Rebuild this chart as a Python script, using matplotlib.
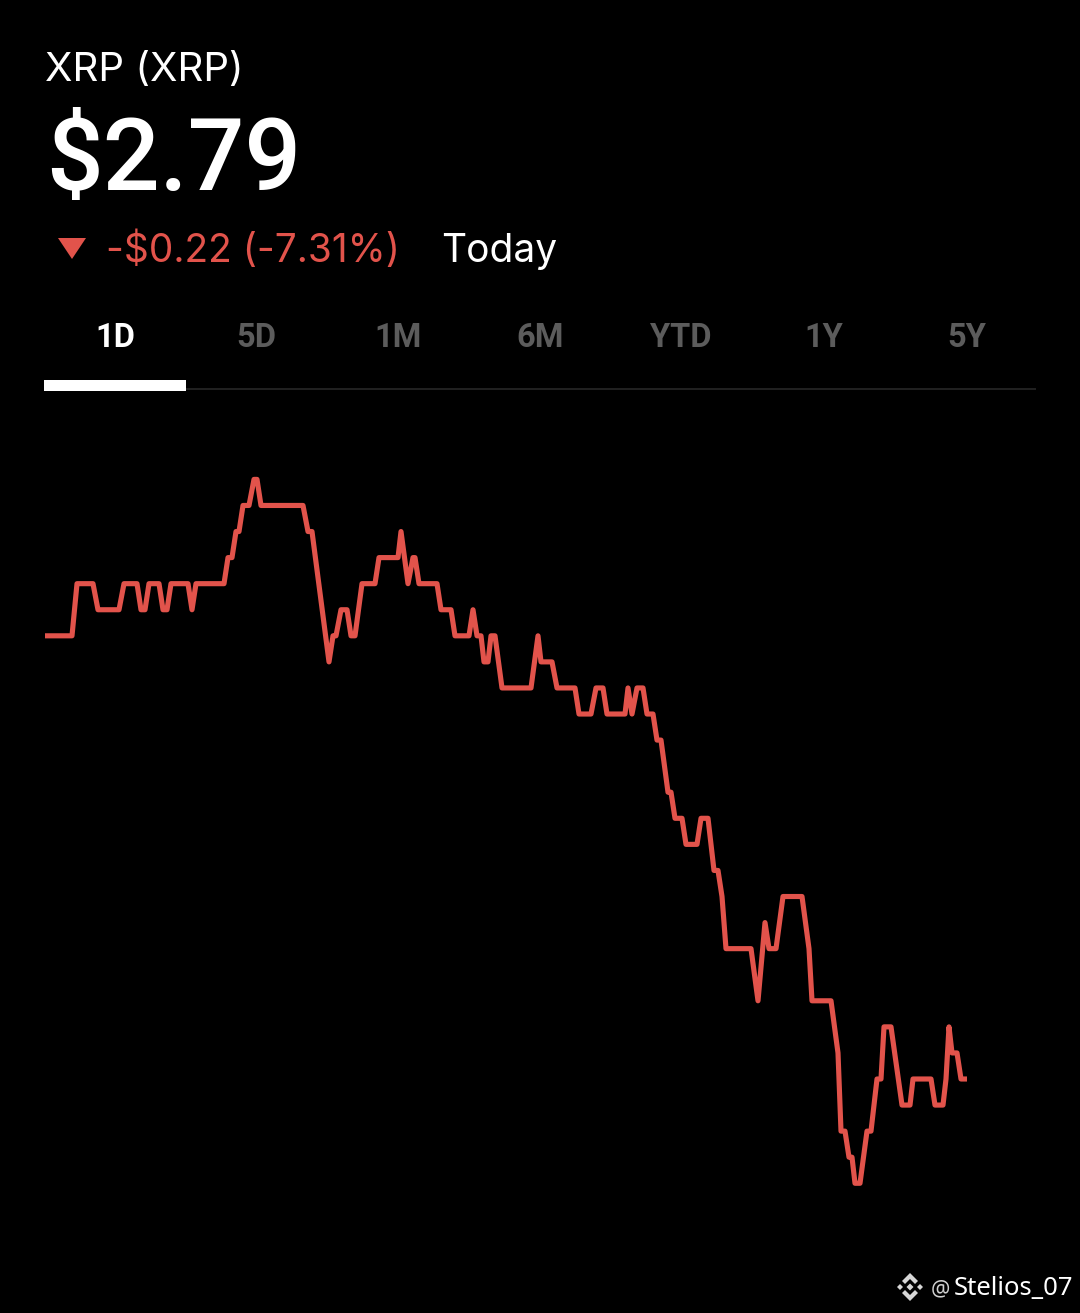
import matplotlib
matplotlib.use("Agg")
import matplotlib.pyplot as plt
from matplotlib.patches import Polygon, Rectangle

# --- data -------------------------------------------------------------
session_pos = [1, 28, 33, 49, 54, 75, 80, 93, 97, 101, 105, 115, 119, 123, 127, 144, 148, 152,
               180, 184, 188, 192, 195, 199, 205, 210, 213, 217, 259, 264, 268, 285, 289, 292,
               297, 303, 307, 311, 318, 331, 335, 354, 357, 364, 369, 371, 375, 393, 397, 407,
               411, 425, 429, 433, 437, 440, 444, 447, 451, 458, 487, 494, 497, 508, 513, 531,
               535, 547, 552, 559, 563, 581, 584, 588, 593, 599, 603, 609, 613, 617, 624, 627,
               631, 638, 642, 653, 657, 664, 670, 674, 678, 682, 707, 714, 721, 725, 732, 739,
               758, 765, 768, 787, 794, 797, 801, 805, 808, 811, 816, 823, 827, 833, 837, 840,
               847, 858, 866, 869, 887, 891, 899, 902, 905, 908, 913, 917, 923]
price = [2.96, 2.96, 2.98, 2.98, 2.97, 2.97, 2.98, 2.98, 2.97, 2.97, 2.98, 2.98, 2.97, 2.97,
         2.98, 2.98, 2.97, 2.98, 2.98, 2.99, 2.99, 3.00, 3.00, 3.01, 3.01, 3.02, 3.02, 3.01,
         3.01, 3.00, 3.00, 2.95, 2.96, 2.96, 2.97, 2.97, 2.96, 2.96, 2.98, 2.98, 2.99, 2.99,
         3.00, 2.98, 2.99, 2.99, 2.98, 2.98, 2.97, 2.97, 2.96, 2.96, 2.97, 2.96, 2.96, 2.95,
         2.95, 2.96, 2.96, 2.94, 2.94, 2.96, 2.95, 2.95, 2.94, 2.94, 2.93, 2.93, 2.94, 2.94,
         2.93, 2.93, 2.94, 2.93, 2.94, 2.94, 2.93, 2.93, 2.92, 2.92, 2.90, 2.90, 2.89, 2.89,
         2.88, 2.88, 2.89, 2.89, 2.87, 2.87, 2.86, 2.84, 2.84, 2.82, 2.85, 2.84, 2.84, 2.86,
         2.86, 2.84, 2.82, 2.82, 2.80, 2.77, 2.77, 2.76, 2.76, 2.75, 2.75, 2.77, 2.77, 2.79,
         2.79, 2.81, 2.81, 2.78, 2.78, 2.79, 2.79, 2.78, 2.78, 2.79, 2.81, 2.80, 2.80, 2.79, 2.79]
tabs = ["1D", "5D", "1M", "6M", "YTD", "1Y", "5Y"]
title = "XRP (XRP)"
last_price = "$2.79"
change = "-$0.22 (-7.31%)"
period = "Today"
handle = "Stelios_07"

RED = "#E2534B"
W, H = 1080, 1313
fig = plt.figure(figsize=(W / 100, H / 100), dpi=100, facecolor="black")

# --- price line -------------------------------------------------------
ax = fig.add_axes([44 / W, 1 - 1250 / H, 992 / W, 850 / H], facecolor="black")
ax.plot(session_pos, price, color=RED, lw=3.7, solid_joinstyle="round", solid_capstyle="butt")
ax.set_xlim(0, 992)
ax.set_ylim(2.79 + (1079 - 1250) / 2607, 2.79 + (1079 - 400) / 2607)
ax.axis("off")

# --- header overlay, in pixel coordinates -----------------------------
ov = fig.add_axes([0, 0, 1, 1], facecolor="none")
ov.set_xlim(0, W)
ov.set_ylim(H, 0)
ov.axis("off")
F = "Roboto"
ov.text(45, 81, title, color="white", fontsize=29, family="Inter", va="baseline")
ov.text(46, 190, last_price, color="white", fontsize=72, family=F, fontweight="medium", va="baseline")
ov.text(106, 262, change, color=RED, fontsize=28, family="Inter", va="baseline")
ov.text(441, 262, period, color="white", fontsize=28, family="Inter", va="baseline")
ov.add_patch(Polygon([(58, 238), (86, 238), (72, 259)], closed=True, fc=RED, ec="none"))

tab_x = [115, 256, 398, 540, 681, 824, 967]
for i, (t, x) in enumerate(zip(tabs, tab_x)):
    ov.text(x, 347, t, color="white" if i == 0 else "#5C5C5C", fontsize=23.5, family=F,
            fontweight="bold", ha="center", va="baseline")
ov.add_patch(Rectangle((186, 388), 850, 2, fc="#202020", ec="none"))
ov.add_patch(Rectangle((44, 380), 142, 11, fc="white", ec="none"))

# watermark
cx, cy, c = 910, 1287, "#D6D6D6"
def diamond(x, y, r):
    ov.add_patch(Polygon([(x - r, y), (x, y - r), (x + r, y), (x, y + r)], closed=True, fc=c, ec="none"))
diamond(cx, cy, 3.5)
diamond(cx - 10, cy, 3)
diamond(cx + 10, cy, 3)
ov.add_patch(Polygon([(cx, cy - 14), (cx + 8, cy - 6), (cx + 5, cy - 3), (cx, cy - 8), (cx - 5, cy - 3), (cx - 8, cy - 6)],
                     closed=True, fc=c, ec="none"))
ov.add_patch(Polygon([(cx, cy + 14), (cx + 8, cy + 6), (cx + 5, cy + 3), (cx, cy + 8), (cx - 5, cy + 3), (cx - 8, cy + 6)],
                     closed=True, fc=c, ec="none"))
ov.text(931, 1295, "@", color="#D0D0D0", fontsize=15.5, family="Noto Sans", va="baseline")
ov.text(954, 1295, handle, color="white", fontsize=18.5, family="Noto Sans", va="baseline")

fig.savefig("out.png", dpi=100, facecolor="black")
